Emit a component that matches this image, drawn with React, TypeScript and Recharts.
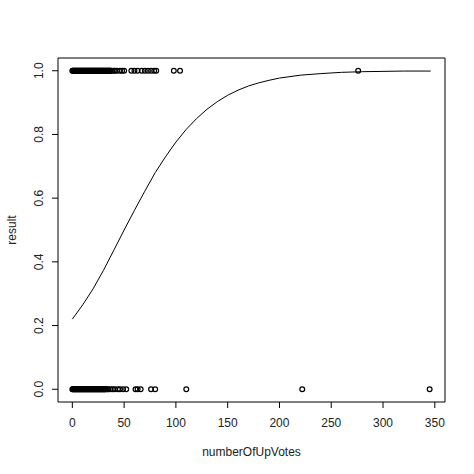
import { ComposedChart, Scatter, Line, XAxis, YAxis, ReferenceArea } from 'recharts';

// up votes of posts with result = 1 (dense run at the low end, then scattered)
const votesResultOne = [
  0, 0.5, 1, 1.5, 2, 2.5, 3, 3.5, 4, 4.5, 5, 5.5, 6, 6.5, 7, 7.5, 8, 8.5, 9, 9.5,
  10, 10.5, 11, 11.5, 12, 12.5, 13, 13.5, 14, 14.5, 15, 15.5, 16, 16.5, 17, 17.5, 18, 18.5, 19, 19.5,
  20, 20.5, 21, 21.5, 22, 22.5, 23, 23.5, 24, 24.5, 25, 25.5, 26, 26.5, 27, 27.5, 28, 28.5, 29, 29.5,
  30, 30.5, 31, 31.5, 32, 32.5, 33, 33.5, 34, 34.5, 35, 35.5, 36, 36.5, 37, 38,
  40, 41, 43, 46, 48, 50,
  57, 60, 63, 67, 70, 73, 76, 79, 81,
  98, 104, 276,
];

// up votes of posts with result = 0
const votesResultZero = [
  0, 0.5, 1, 1.5, 2, 2.5, 3, 3.5, 4, 4.5, 5, 5.5, 6, 6.5, 7, 7.5, 8, 8.5, 9, 9.5,
  10, 10.5, 11, 11.5, 12, 12.5, 13, 13.5, 14, 14.5, 15, 15.5, 16, 16.5, 17, 17.5, 18, 18.5, 19, 19.5,
  20, 20.5, 21, 21.5, 22, 22.5, 23, 23.5, 24, 24.5, 25, 25.5, 26, 26.5, 27, 27.5, 28, 28.5, 29, 29.5,
  30, 30.5, 31, 31.5, 32, 33, 34,
  35, 37, 39, 41, 44, 46, 49, 52,
  61, 63, 66, 76, 80,
  110, 222, 345,
];

// fitted curve
const curveX = [0, 10, 20, 30, 40, 50, 60, 70, 80, 90, 100, 110, 120, 130, 140, 150, 160, 170, 180, 190, 200, 220, 240, 260, 280, 300, 320, 346];
const curveP = [0.22, 0.265, 0.315, 0.373, 0.436, 0.5, 0.562, 0.622, 0.68, 0.73, 0.776, 0.816, 0.85, 0.879, 0.903, 0.923, 0.939, 0.952, 0.962, 0.97, 0.977, 0.986, 0.991, 0.995, 0.997, 0.998, 0.999, 0.999];

const xTicks = [0, 50, 100, 150, 200, 250, 300, 350];
const yTicks = [0, 0.2, 0.4, 0.6, 0.8, 1.0];
const xDomain: [number, number] = [-13.84, 359.84];
const yDomain: [number, number] = [-0.04, 1.04];

const points = [
  ...votesResultOne.map((v) => ({ x: v, y: 1 })),
  ...votesResultZero.map((v) => ({ x: v, y: 0 })),
];
const curve = curveX.map((x, i) => ({ x, y: curveP[i] }));

const FONT = '"Liberation Sans", Arial, sans-serif';
const INK = '#222';

const OpenCircle = (props: any) => {
  const { cx, cy } = props;
  return <circle cx={cx} cy={cy} r={2.4} fill="none" stroke="#000" strokeWidth={1.2} />;
};

const YTick = (props: any) => {
  const { x, y, payload } = props;
  return (
    <text x={x} y={y} transform={`rotate(-90 ${x} ${y})`} textAnchor="middle" fontSize={12} fontFamily={FONT} fill={INK}>
      {Number(payload.value).toFixed(1)}
    </text>
  );
};

const XTitle = (props: any) => {
  const { viewBox } = props;
  return (
    <text x={viewBox.x + viewBox.width / 2} y={viewBox.y + 54} textAnchor="middle" fontSize={12} fontFamily={FONT} fill={INK}>
      numberOfUpVotes
    </text>
  );
};

const YTitle = (props: any) => {
  const { viewBox } = props;
  const x = 16;
  const y = viewBox.y + viewBox.height / 2;
  return (
    <text x={x} y={y} transform={`rotate(-90 ${x} ${y})`} textAnchor="middle" fontSize={12} fontFamily={FONT} fill={INK}>
      result
    </text>
  );
};

export default function App() {
  return (
    <div style={{ position: 'absolute', left: 0, top: 0, width: 474, height: 474, background: '#fff' }}>
      <ComposedChart width={474} height={474} margin={{ top: 58, right: 29, bottom: 0, left: 0 }}>
        <XAxis
          type="number"
          dataKey="x"
          domain={xDomain}
          allowDataOverflow
          ticks={xTicks}
          axisLine={false}
          tickSize={6}
          tickMargin={10}
          tickLine={{ stroke: '#000' }}
          tick={{ fontSize: 12, fill: INK, fontFamily: FONT }}
          height={72}
          label={<XTitle />}
        />
        <YAxis
          type="number"
          dataKey="y"
          domain={yDomain}
          allowDataOverflow
          ticks={yTicks}
          axisLine={false}
          tickSize={6}
          tickMargin={9}
          tickLine={{ stroke: '#000' }}
          tick={<YTick />}
          width={58}
          label={<YTitle />}
        />
        <ReferenceArea
          x1={xDomain[0]}
          x2={xDomain[1]}
          y1={yDomain[0]}
          y2={yDomain[1]}
          fill="none"
          fillOpacity={0}
          stroke="#000"
          strokeWidth={1}
          ifOverflow="visible"
        />
        <Scatter data={points} dataKey="y" shape={<OpenCircle />} isAnimationActive={false} />
        <Line
          data={curve}
          dataKey="y"
          type="linear"
          stroke="#000"
          strokeWidth={1}
          dot={false}
          activeDot={false}
          isAnimationActive={false}
        />
      </ComposedChart>
    </div>
  );
}
